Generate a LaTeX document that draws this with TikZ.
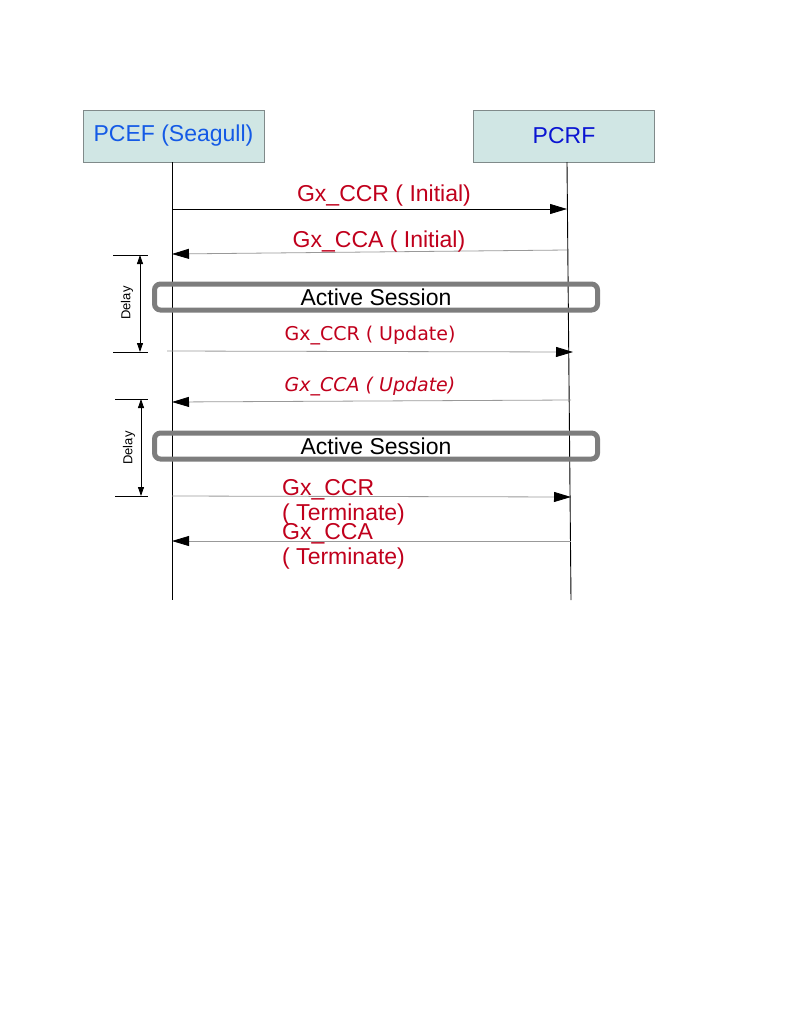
\documentclass[tikz,border=0pt]{standalone}
\usepackage{fontspec}
\setmainfont{Liberation Sans}
\newfontfamily\dejavu{DejaVu Sans}
\usetikzlibrary{arrows.meta}
\definecolor{msgred}{RGB}{192,0,28}
\definecolor{boxfill}{RGB}{208,230,228}
\definecolor{boxline}{RGB}{128,138,138}
\definecolor{pcefblue}{RGB}{20,90,230}
\definecolor{pcrfblue}{RGB}{10,20,210}
\definecolor{sessgray}{RGB}{125,125,125}
\tikzset{
  entity/.style={draw=boxline, fill=boxfill, line width=0.8pt, minimum width=181pt, minimum height=52pt, inner sep=0pt, font=\fontsize{23}{27}\selectfont},
  lifeline/.style={line width=0.9pt, black},
  msg/.style={line width=0.8pt, -{Triangle[length=17pt,width=10pt,color=black]}},
  msglight/.style={msg, draw=black!40},
  msglabel/.style={text=msgred, inner sep=0pt, font=\fontsize{23}{25}\selectfont},
  msgsmall/.style={text=msgred, inner sep=0pt, font=\dejavu\fontsize{19}{22}\selectfont},
  session/.style={draw=sessgray, line width=5pt, rounded corners=6pt, minimum width=443pt, minimum height=26pt, inner sep=0pt, font=\fontsize{23}{26}\selectfont},
  tick/.style={line width=0.8pt},
  delayarrow/.style={line width=0.8pt, {Triangle[length=9pt,width=6pt]}-{Triangle[length=9pt,width=6pt]}},
  delaylabel/.style={rotate=90, inner sep=0pt, font=\fontsize{13}{14}\selectfont}
}
\begin{document}
\begin{tikzpicture}[x=1pt, y=-1pt]
\useasboundingbox (0,0) rectangle (791,1023);
% entities
\node[entity, text=pcefblue] (pcef) at (173.5,136) {PCEF (Seagull)};
\node[entity, text=pcrfblue] (pcrf) at (564,136) {PCRF};
% lifelines
\coordinate (lt) at (172,162);
\coordinate (lb) at (172,600);
\coordinate (rt) at (567,162);
\coordinate (rb) at (571,600);
\draw[lifeline] (lt) -- (lb);
\draw[lifeline] (rt) -- (rb);
% message 1
\coordinate (m1a) at (172,209);
\coordinate (m1b) at (567,209);
\draw[msg] (m1a) -- (m1b);
\node[msglabel] (l1) at (384,196) {Gx\_CCR ( Initial)};
% message 2
\coordinate (m2a) at (567,250);
\coordinate (m2b) at (172,254);
\draw[msglight] (m2a) -- (m2b);
\node[msglabel] (l2) at (379,242) {Gx\_CCA ( Initial)};
% delay 1
\coordinate (d1t1) at (113,255); \coordinate (d1t2) at (148,255);
\coordinate (d1b1) at (113,352); \coordinate (d1b2) at (148,352);
\coordinate (d1a) at (140,255); \coordinate (d1b) at (140,352);
\draw[tick] (d1t1) -- (d1t2);
\draw[tick] (d1b1) -- (d1b2);
\draw[delayarrow] (d1a) -- (d1b);
\node[delaylabel] (dl1) at (127,303) {Delay};
% active session 1
\node[session] (s1) at (376,297) {Active Session};
% message 3
\coordinate (m3a) at (167,351);
\coordinate (m3b) at (573,352);
\draw[msglight] (m3a) -- (m3b);
\node[msgsmall] (l3) at (370,336) {Gx\_CCR ( Update)};
% message 4
\coordinate (m4a) at (571,400);
\coordinate (m4b) at (172,402);
\draw[msglight] (m4a) -- (m4b);
\node[msgsmall, font=\dejavu\itshape\fontsize{19}{22}\selectfont] (l4) at (370,387) {Gx\_CCA ( Update)};
% delay 2
\coordinate (d2t1) at (115,399); \coordinate (d2t2) at (148,399);
\coordinate (d2b1) at (115,496); \coordinate (d2b2) at (148,496);
\coordinate (d2a) at (141,399); \coordinate (d2b) at (141,496);
\draw[tick] (d2t1) -- (d2t2);
\draw[tick] (d2b1) -- (d2b2);
\draw[delayarrow] (d2a) -- (d2b);
\node[delaylabel] (dl2) at (129,448) {Delay};
% active session 2
\node[session] (s2) at (376,446) {Active Session};
% message 5
\coordinate (m5a) at (172,496);
\coordinate (m5b) at (571,497);
\draw[msglight] (m5a) -- (m5b);
\node[msglabel, anchor=north west, align=left] (l5) at (282,479) {Gx\_CCR\\( Terminate)};
% message 6
\coordinate (m6a) at (571,541);
\coordinate (m6b) at (172,541);
\draw[msglight] (m6a) -- (m6b);
\node[msglabel, anchor=north west, align=left] (l6) at (282,523) {Gx\_CCA\\( Terminate)};
\end{tikzpicture}
\end{document}
